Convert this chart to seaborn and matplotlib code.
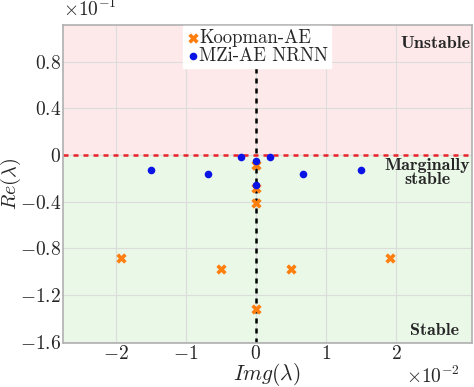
import pandas as pd
import matplotlib.pyplot as plt
import matplotlib.ticker as mticker
import seaborn as sns

koop_img = [-0.0192, -0.0050, 0.0050, 0.0192, 0.0, 0.0, 0.0, 0.0]
koop_re = [-0.088, -0.0975, -0.0975, -0.088, -0.132, -0.041, -0.028, -0.0085]
mzi_img = [-0.0150, -0.0068, -0.0021, 0.0, 0.0, 0.0021, 0.0068, 0.0150]
mzi_re = [-0.0128, -0.0160, -0.0015, -0.0050, -0.0260, -0.0015, -0.0160, -0.0128]

xticks = [-0.02, -0.01, 0.0, 0.01, 0.02]
yticks = [0.08, 0.04, 0.0, -0.04, -0.08, -0.12, -0.16]

df = pd.concat([
    pd.DataFrame({'img': koop_img, 're': koop_re, 'model': 'Koopman-AE'}),
    pd.DataFrame({'img': mzi_img, 're': mzi_re, 'model': 'MZi-AE NRNN'}),
])

sns.set_theme(style='whitegrid')
plt.rcParams['font.family'] = ['serif']
plt.rcParams['font.serif'] = ['cmr10', 'DejaVu Serif']
plt.rcParams['mathtext.fontset'] = 'cm'
plt.rcParams['axes.formatter.use_mathtext'] = True

fig = plt.figure(figsize=(4.74, 3.87), dpi=100)
ax = fig.add_axes([0.133, 0.114, 0.862, 0.822])

xlim = (-0.0275, 0.0308)
ylim = (-0.161, 0.1117)

ax.axhspan(0, ylim[1], color='#fde9e9', zorder=0)
ax.axhspan(ylim[0], 0, color='#e9f8e7', zorder=0)
ax.axhline(0, color='#e8202a', ls=(0, (2, 2)), lw=1.8, zorder=1)
ax.axvline(0, color='black', ls=(0, (2, 2)), lw=1.8, zorder=1)

sns.scatterplot(data=df[df.model == 'Koopman-AE'], x='img', y='re', marker='X',
                color='#ff7f0e', s=55, linewidth=0, label='Koopman-AE', ax=ax, zorder=3)
sns.scatterplot(data=df[df.model == 'MZi-AE NRNN'], x='img', y='re', marker='o',
                color='#0a14e6', s=30, linewidth=0, label='MZi-AE NRNN', ax=ax, zorder=4)

ax.set_xlim(*xlim)
ax.set_ylim(*ylim)
ax.set_xticks(xticks)
ax.set_yticks(yticks)

def fmt(scale):
    def f(v, pos):
        return '$%g$' % round(v / scale, 3)
    return mticker.FuncFormatter(f)

ax.xaxis.set_major_formatter(fmt(1e-2))
ax.yaxis.set_major_formatter(fmt(1e-1))
ax.tick_params(labelsize=14, length=0, pad=1.5)
ax.grid(color='#dcdcdc', lw=0.8)
for s in ax.spines.values():
    s.set_color('#b0b0b0')
    s.set_linewidth(1.2)

ax.text(0.0, 1.015, r'$\times10^{-1}$', transform=ax.transAxes, fontsize=14, va='bottom', ha='left')
ax.text(0.905, -0.072, r'$\times10^{-2}$', transform=ax.transAxes, fontsize=14, va='top', ha='center')

ax.set_xlabel(r'$Img(\lambda)$', fontsize=15.5)
ax.set_ylabel(r'$Re(\lambda)$', fontsize=14.5)
ax.xaxis.set_label_coords(0.5, -0.058)
ax.yaxis.set_label_coords(-0.097, 0.5)

ax.text(0.997, 0.965, 'Unstable', transform=ax.transAxes, ha='right', va='top',
        fontsize=13, family='cmb10')
ax.text(0.997, -0.0025, 'Marginally\nstable', ha='right', va='top', transform=ax.get_yaxis_transform(),
        fontsize=13, family='cmb10', multialignment='center', linespacing=0.95)
ax.text(0.97, 0.015, 'Stable', transform=ax.transAxes, ha='right', va='bottom',
        fontsize=13, family='cmb10')

leg = ax.legend(loc='upper center', bbox_to_anchor=(0.475, 1.0), fontsize=13.5,
                handletextpad=0.0, handlelength=0.7, borderpad=0.15, labelspacing=0.05,
                frameon=True, fancybox=False, framealpha=1, edgecolor='white', borderaxespad=0.05)
leg.set_zorder(5)

plt.savefig('out.png', dpi=100)
